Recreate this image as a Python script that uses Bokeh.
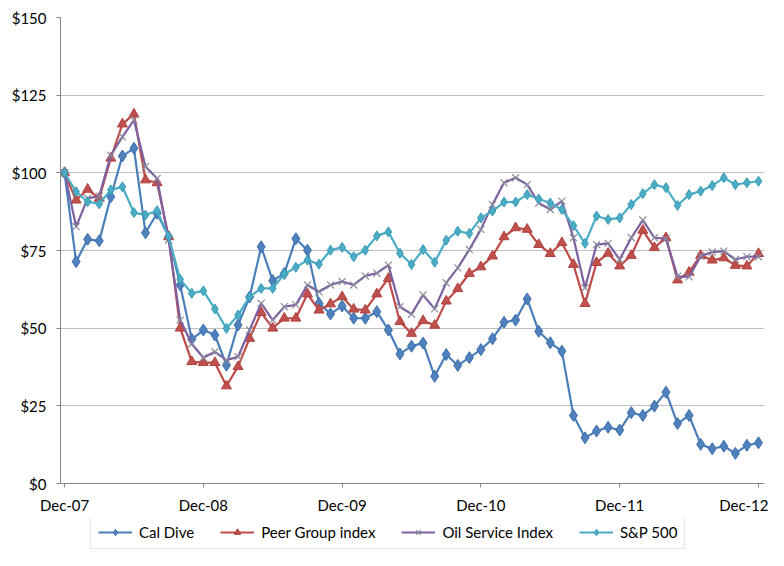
from bokeh.plotting import figure
from bokeh.models import FixedTicker, Legend, LegendItem, Range1d, NumeralTickFormatter
from bokeh.layouts import column
from bokeh.embed import file_html
from bokeh.resources import INLINE

months = list(range(61))
tick_positions = [0, 12, 24, 36, 48, 60]
tick_labels = ["Dec-07", "Dec-08", "Dec-09", "Dec-10", "Dec-11", "Dec-12"]
y_ticks = [0, 25, 50, 75, 100, 125, 150]
series_names = ["Cal Dive", "Peer Group index", "Oil Service Index", "S&P 500"]

cal_dive = [100, 71.4, 78.6, 78.1, 92.3, 105.4, 107.9, 80.7, 87.0, 79.4,
            63.9, 46.4, 49.4, 47.8, 38.1, 51.0, 60.0, 76.2, 65.3, 67.6,
            78.8, 75.1, 58.0, 54.6, 57.1, 53.2, 53.2, 55.3, 49.4, 41.7,
            44.2, 45.2, 34.5, 41.5, 38.0, 40.5, 43.1, 46.6, 51.9, 52.6,
            59.4, 49.0, 45.3, 42.6, 21.9, 14.7, 16.9, 18.1, 17.2, 22.8,
            21.9, 24.9, 29.4, 19.3, 21.9, 12.6, 11.2, 12.0, 9.7, 12.3, 13.1]

peer_group = [100, 91.2, 94.7, 91.8, 104.7, 115.7, 118.9, 97.7, 96.8, 79.4,
              50.0, 39.2, 38.9, 38.9, 31.4, 37.6, 46.7, 55.0, 50.0, 53.2,
              53.2, 61.0, 55.8, 57.8, 60.1, 56.1, 55.8, 61.0, 66.0, 52.1,
              48.3, 52.4, 50.9, 58.7, 62.7, 67.6, 69.7, 73.2, 79.4, 82.3,
              81.8, 76.9, 74.0, 77.5, 70.5, 57.9, 71.1, 74.1, 70.0, 73.4,
              81.5, 75.9, 79.1, 65.5, 68.0, 73.4, 71.9, 72.6, 70.2, 70.0, 74.0]

oil_service = [100, 82.7, 91.8, 92.5, 105.7, 111.6, 117.0, 102.0, 98.2, 78.4,
               52.6, 45.0, 40.5, 42.4, 39.7, 40.8, 49.4, 58.0, 52.6, 56.9,
               57.5, 63.9, 61.7, 63.9, 65.0, 63.9, 66.8, 67.7, 70.3, 56.9,
               54.5, 60.7, 56.2, 64.6, 69.4, 75.3, 81.8, 89.8, 96.8, 98.4,
               96.2, 90.3, 88.2, 90.9, 79.1, 63.0, 76.9, 77.3, 72.1, 79.1,
               84.8, 79.1, 78.8, 66.7, 66.5, 73.2, 74.5, 74.8, 72.1, 73.0, 73.0]

sp500 = [100, 93.9, 90.7, 90.0, 94.5, 95.5, 87.2, 86.4, 87.8, 79.4,
         65.7, 61.2, 62.0, 56.2, 49.9, 54.2, 60.1, 62.8, 62.8, 67.4,
         69.6, 71.9, 70.6, 75.1, 76.0, 73.0, 75.1, 79.7, 81.0, 74.1,
         70.5, 75.3, 71.2, 78.3, 81.2, 80.5, 85.5, 87.7, 90.6, 90.6,
         93.0, 91.6, 90.3, 88.2, 83.0, 77.3, 86.1, 85.0, 85.5, 89.8,
         93.3, 96.2, 95.2, 89.5, 93.0, 94.1, 95.9, 98.4, 96.2, 96.8, 97.3]

FONT = "Lato"

styles = [
    dict(line="#4A7EBB", marker="diamond", size=12, fill="#4F81BD", edge="#3C6EAE"),
    dict(line="#BE4B48", marker="triangle", size=10, fill="#C0504D", edge="#B0403D"),
    dict(line="#7D60A0", marker="x", size=10, fill=None, edge="#8C8C9C"),
    dict(line="#4BACC6", marker="diamond", size=10, fill="#4BACC6", edge="#3A9BB5"),
]

p = figure(width=768, height=518, output_backend="svg", toolbar_location=None,
           x_range=Range1d(-0.35, 60.52), y_range=Range1d(0, 150),
           min_border_left=60, min_border_right=4, min_border_top=17, min_border_bottom=35)
p.outline_line_color = None
p.background_fill_color = "white"
p.border_fill_color = "white"

p.xgrid.grid_line_color = None
p.ygrid.grid_line_color = "#BFBFBF"
p.ygrid.grid_line_width = 1
p.ygrid.ticker = FixedTicker(ticks=y_ticks)

p.xaxis.ticker = FixedTicker(ticks=tick_positions)
p.xaxis.major_label_overrides = {k: v for k, v in zip(tick_positions, tick_labels)}
p.yaxis.ticker = FixedTicker(ticks=y_ticks)
p.yaxis.formatter = NumeralTickFormatter(format="$0")
for ax in (p.xaxis[0], p.yaxis[0]):
    ax.axis_line_color = "#868686"
    ax.major_tick_line_color = "#868686"
    ax.major_tick_in = 0
    ax.major_tick_out = 4
    ax.minor_tick_line_color = None
    ax.major_label_text_font = FONT
    ax.major_label_text_font_size = "15px"
    ax.major_label_text_color = "#000000"
p.xaxis.major_label_standoff = 8
p.yaxis.major_label_standoff = 10


def draw(fig, xs, ys, st):
    rl = fig.line(xs, ys, line_color=st["line"], line_width=2.2)
    if st["marker"] == "x":
        rm = fig.scatter(xs, ys, marker="x", size=st["size"], line_color=st["edge"], line_width=1.2)
    else:
        rm = fig.scatter(xs, ys, marker=st["marker"], size=st["size"], fill_color=st["fill"],
                         line_color=st["edge"], line_width=1)
    return rl, rm


all_series = [cal_dive, peer_group, oil_service, sp500]
for ys, st in zip(all_series, styles):
    draw(p, months, ys, st)

# legend strip: a small figure whose view range lies away from the data,
# so its copies of the series only feed the legend glyphs
leg_fig = figure(width=768, height=32, output_backend="svg", toolbar_location=None,
                 x_axis_type=None, y_axis_type=None,
                 x_range=Range1d(1000, 1001), y_range=Range1d(1000, 1001),
                 min_border_left=0, min_border_right=0, min_border_top=0, min_border_bottom=0)
leg_fig.outline_line_color = None
leg_fig.grid.grid_line_color = None
leg_fig.border_fill_color = "white"

items = []
for name, ys, st in zip(series_names, all_series, styles):
    rl, rm = draw(leg_fig, months, ys, st)
    items.append(LegendItem(label=name, renderers=[rl, rm]))

legend = Legend(items=items, orientation="horizontal", location=(30, 1))
legend.label_text_font = FONT
legend.label_text_font_size = "15px"
legend.label_text_color = "#000000"
legend.glyph_width = 34
legend.glyph_height = 16
legend.label_standoff = 7
legend.spacing = 26
legend.padding = 7
legend.margin = 0
legend.border_line_color = "#CFCFCF"
legend.border_line_width = 1
legend.background_fill_alpha = 1.0
legend.label_height = 16
leg_fig.add_layout(legend, "center")

layout = column(p, leg_fig, spacing=0)
open("out.html", "w").write(file_html(layout, INLINE))
